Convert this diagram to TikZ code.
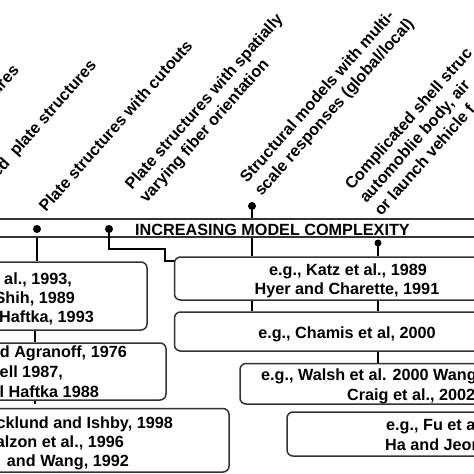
\documentclass[tikz,border=0pt]{standalone}
\usepackage{fontspec}
\setmainfont{Liberation Sans}
\begin{document}
\begin{tikzpicture}[x=1pt,y=-1pt,
  linecol/.style={draw=black!80},
  box/.style={linecol, line width=1.5pt, rounded corners=6pt, rectangle, inner sep=0pt},
  conn/.style={draw=black, line width=2.2pt, line cap=butt},
  dotnode/.style={circle, fill=black, inner sep=0pt, minimum size=8pt},
  txt/.style={font=\fontsize{16.2pt}{19.5pt}\selectfont\bfseries, inner sep=0pt, text=black},
  rtxt/.style={txt, anchor=base west, rotate=48.5}]
\useasboundingbox (0,0) rectangle (474,474);
\clip (0,0) rectangle (474,474);
\fill[white] (0,0) rectangle (474,474);

% rotated labels
\node[rtxt] (l0) at (-3,97) {ures};
\node[rtxt] (l1) at (-2,178) {ed\ \ plate structures};
\node[rtxt] (l2) at (46,213) {Plate structures with cutouts};
\node[rtxt] (l3a) at (132,191) {Plate structures with spatially};
\node[rtxt] (l3b) at (146.6,203.9) {varying fiber orientation};
\node[rtxt] (l4a) at (247,184) {Structural models with multi-};
\node[rtxt] (l4b) at (261.6,196.9) {scale responses (global/local)};
\node[rtxt] (l5a) at (352,191) {Complicated shell struc};
\node[rtxt] (l5b) at (366.6,203.9) {automoblie body, air};
\node[rtxt] (l5c) at (381.2,216.8) {or launch vehicle f};

% band
\node[linecol, line width=1.6pt, rectangle, minimum width=520pt, minimum height=18pt, inner sep=0pt] (band) at (237,228) {};
\node[txt, anchor=base] (bandtxt) at (272.5,235) {INCREASING MODEL COMPLEXITY};

% boxes
\node[box, minimum width=207pt, minimum height=68pt] (A) at (43.5,296) {};
\node[box, minimum width=226pt, minimum height=57pt] (B) at (53,371.5) {};
\node[box, minimum width=289pt, minimum height=63.5pt] (C) at (84.5,440.25) {};
\node[box, minimum width=365.5pt, minimum height=43pt] (K) at (357.25,278.5) {};
\node[box, minimum width=365.5pt, minimum height=39pt] (Ch) at (357.25,331.5) {};
\node[box, minimum width=300pt, minimum height=40.5pt] (W) at (390,383.75) {};
\node[box, minimum width=253pt, minimum height=44pt] (F) at (413.5,434) {};

% box texts
\node[txt, anchor=base east] (a1) at (72,284) {al., 1993,};
\node[txt, anchor=base east] (a2) at (75,303) {Shih, 1989};
\node[txt, anchor=base east] (a3) at (94,322) {Haftka, 1993};
\node[txt, anchor=base east] (b1) at (127,357) {d Agranoff, 1976};
\node[txt, anchor=base east] (b2) at (63,377) {ell 1987,};
\node[txt, anchor=base east] (b3) at (99,397) {l Haftka 1988};
\node[txt, anchor=base east] (c1) at (173,428) {cklund and Ishby, 1998};
\node[txt, anchor=base east] (c2) at (124,447) {alzon et al., 1996};
\node[txt, anchor=base east] (c3) at (129,466) {and Wang, 1992};
\node[txt, anchor=base] (k1) at (348,275) {e.g., Katz et al., 1989};
\node[txt, anchor=base] (k2) at (347,294) {Hyer and Charette, 1991};
\node[txt, anchor=base] (ch1) at (347,338) {e.g., Chamis et al, 2000};
\node[txt, anchor=base west] (w1) at (261,380) {e.g., Walsh et al. 2000 Wang};
\node[txt, anchor=base west] (w2) at (347,400) {Craig et al., 2002};
\node[txt, anchor=base west] (f1) at (386,430.5) {e.g., Fu et a};
\node[txt, anchor=base west] (f2) at (385,450.5) {Ha and Jeon};

% dots
\node[dotnode] (d1) at (37,229) {};
\node[dotnode] (d2) at (109,229) {};
\node[dotnode] (d3) at (252,206) {};
\node[dotnode, minimum size=7pt] (d4) at (378,243) {};

% helper coordinates
\coordinate (xa) at (35,0);
\coordinate (s1) at (165,249);
\coordinate (s2) at (165,261);

% connectors
\draw[conn] (d1 |- band.south) -- (d1 |- A.north);
\draw[conn] (d2.center) |- (s1) -- (s2) -- (s2 -| K.west);
\draw[conn] (d3.center) -- (d3 |- band.north);
\draw[conn] (d3 |- band.south) -- (d3 |- K.north);
\draw[conn] (d3 |- K.south) -- (d3 |- Ch.north);
\draw[conn] (d4.center) -- (d4 |- K.north);
\draw[conn] (d4 |- K.south) -- (d4 |- Ch.north);
\draw[conn] (d4 |- Ch.south) -- (d4 |- W.north);
\draw[conn] (xa |- A.south) -- (xa |- B.north);
\draw[conn] (xa |- B.south) -- ++(0,3.5);
\end{tikzpicture}
\end{document}
